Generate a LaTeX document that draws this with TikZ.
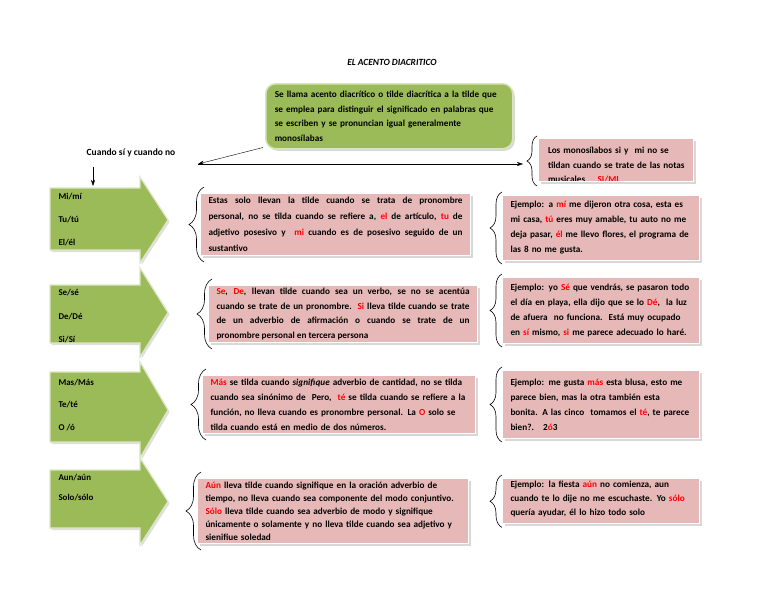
\documentclass[tikz,border=0pt]{standalone}
\usepackage{fontspec}
\setmainfont{Carlito}
\usepackage{tikz}
\usetikzlibrary{shapes,shadows,arrows.meta,decorations.pathreplacing}
\definecolor{verde}{HTML}{9BBB59}
\definecolor{rosa}{HTML}{E6B9B8}
\definecolor{rojo}{HTML}{FF0000}

\begin{document}
\begin{tikzpicture}[x=1pt,y=-1pt,
                caja/.style={fill=rosa,draw=white,line width=1pt,drop shadow={shadow xshift=2pt,shadow yshift=-2pt,fill=black!30},anchor=north west,inner xsep=8pt,inner ysep=3pt,align=left,font=\fontsize{9.2}{15}\selectfont\bfseries},
                cajaverde/.style={fill=verde,draw=verde!40!white,line width=1.5pt,rounded corners=10pt,drop shadow={shadow xshift=2pt,shadow yshift=-2pt,fill=black!30},anchor=north west,inner xsep=9pt,inner ysep=4pt,align=left,font=\fontsize{9.2}{14.5}\selectfont\bfseries},
                flecha/.style={fill=verde,draw=verde!35!white,line width=1.2pt,drop shadow={shadow xshift=1.5pt,shadow yshift=-2pt,fill=black!25}},
                llave/.style={decorate,decoration={brace,amplitude=15pt},line width=0.6pt},
                etiqueta/.style={anchor=west,font=\fontsize{8.9}{10}\selectfont\bfseries},
                >={Stealth[length=6pt,width=4pt]}]
                \useasboundingbox (0,0) rectangle (768,594);
                \node[font=\fontsize{9.4}{10}\selectfont\bfseries\itshape] (titulo) at (392,62) {EL ACENTO DIACRITICO};
                \node[cajaverde,text width=229pt,minimum height=65pt] (gbox) at (265,83)
                    {Se llama acento diacrítico o tilde diacrítica a la tilde que\\ se emplea para distinguir el significado en palabras que\\ se escriben y se pronuncian igual generalmente\\ monosílabas};
                \node[font=\fontsize{9.5}{10}\selectfont\bfseries] (cuando) at (131,153) {Cuando sí y cuando no};
                \coordinate (sube) at (93,167);
                \coordinate (baja) at (93,186);
                \draw[->] (sube) -- (baja);
                \coordinate (izq) at (198,164);
                \coordinate (der) at (523,164);
                \draw[->] ([xshift=-2pt,yshift=2pt]gbox.south west) -- (izq);
                \draw[->] (izq) -- (der);
                \node[caja,text width=139pt,minimum height=43pt,path picture={
                    \node[anchor=north west,align=left,text width=145pt,inner sep=0pt,font=\fontsize{9.2}{14.5}\selectfont\bfseries] (notatexto)
                        at ([xshift=9pt,yshift=-4.5pt]path picture bounding box.north west)
                        {Los monosílabos si y\ \ mi no se\\ tildan cuando se trate de las notas\\ musicales\ \ \ \ \textcolor{rojo}{SI/MI}};}] (nota) at (538,138) {};
                \draw[llave,decoration={amplitude=10pt}] ([xshift=-1pt,yshift=-4pt]nota.south west) -- ([xshift=-1pt,yshift=2pt]nota.north west);
                \foreach \a/\b/\c/\d in {188/250/177/263, 285/343/268/357, 372/442/362/458, 470/528/458/545}
                    \draw[flecha] (50,\a) -- (140,\a) -- (140,\c) -- (168,{(\c+\d)/2}) -- (140,\d) -- (140,\b) -- (50,\b) -- cycle;
                \node[etiqueta] (mi) at (55,197) {Mi/mí};
                \node[etiqueta] (tu) at (55,220) {Tu/tú};
                \node[etiqueta] (el) at (55,243) {El/él};
                \node[etiqueta] (se) at (55,293) {Se/sé};
                \node[etiqueta] (de) at (55,317) {De/Dé};
                \node[etiqueta] (si) at (55,340) {Si/Sí};
                \node[etiqueta] (mas) at (55,383) {Mas/Más};
                \node[etiqueta] (te) at (55,405) {Te/té};
                \node[etiqueta] (o) at (55,428) {O /ó};
                \node[etiqueta] (aun) at (55,478) {Aun/aún};
                \node[etiqueta] (solo) at (55,498) {Solo/sólo};
                \node[caja,text width=254pt,minimum height=62pt,inner ysep=1pt,align=justify,font=\fontsize{9.2}{16}\selectfont\bfseries] (L1) at (200,193)
                    {Estas solo llevan la tilde cuando se trata de pronombre\linebreak personal, no se tilda cuando se refiere a, \textcolor{rojo}{el} de artículo, \textcolor{rojo}{tu} de\linebreak adjetivo posesivo y\ \ \textcolor{rojo}{mi} cuando es de posesivo seguido de un\linebreak sustantivo};
                \node[caja,text width=181pt,minimum height=65pt] (R1) at (502,195)
                    {Ejemplo: a \textcolor{rojo}{mí} me dijeron otra cosa, esta es\\ mi casa, \textcolor{rojo}{tú} eres muy amable, tu auto no me\\ deja pasar, \textcolor{rojo}{él} me llevo flores, el programa de\\ las 8 no me gusta.};
                \node[caja,text width=253pt,minimum height=57pt,inner ysep=1pt,align=justify,font=\fontsize{9.2}{14.5}\selectfont\bfseries] (L2) at (208,285)
                    {\textcolor{rojo}{Se}, \textcolor{rojo}{De}, llevan tilde cuando sea un verbo, se no se acentúa\linebreak cuando se trate de un pronombre. \textcolor{rojo}{Si} lleva tilde cuando se trate\linebreak de un adverbio de afirmación o cuando se trate de un\linebreak pronombre personal en tercera persona};
                \node[caja,text width=181pt,minimum height=66pt] (R2) at (502,277)
                    {Ejemplo: yo \textcolor{rojo}{Sé} que vendrás, se pasaron todo\\ el día en playa, ella dijo que se lo \textcolor{rojo}{Dé},\ \ la luz\\ de afuera\ \ no funciona.\ \ Está muy ocupado\\ en \textcolor{rojo}{sí} mismo, \textcolor{rojo}{si} me parece adecuado lo haré.};
                \node[caja,text width=257pt,minimum height=58pt,inner ysep=1pt,font=\fontsize{9.2}{15}\selectfont\bfseries] (L3) at (202,375)
                    {\textcolor{rojo}{Más} se tilda cuando \textit{signifique} adverbio de cantidad, no se tilda\\ cuando sea sinónimo de\ \ Pero,\ \ \textcolor{rojo}{té} se tilda cuando se refiere a la\\ función, no lleva cuando es pronombre personal. La \textcolor{rojo}{O} solo se\\ tilda cuando está en medio de dos números.};
                \node[caja,text width=181pt,minimum height=68pt] (R3) at (502,370)
                    {Ejemplo: me gusta \textcolor{rojo}{más} esta blusa, esto me\\ parece bien, mas la otra también esta\\ bonita. A las cinco\ \ tomamos el \textcolor{rojo}{té}, te parece\\ bien?.\ \ \ 2\textcolor{rojo}{ó}3};
                \node[caja,text width=255pt,minimum height=65pt,inner ysep=1pt,font=\fontsize{9.2}{13}\selectfont\bfseries] (L4) at (197,478)
                    {\textcolor{rojo}{Aún} lleva tilde cuando signifique en la oración adverbio de\\ tiempo, no lleva cuando sea componente del modo conjuntivo.\\ \textcolor{rojo}{Sólo} lleva tilde cuando sea adverbio de modo y signifique\\ únicamente o solamente y no lleva tilde cuando sea adjetivo y\\ sienifiue soledad};
                \node[caja,text width=181pt,text depth=33pt,font=\fontsize{9.2}{14}\selectfont\bfseries] (R4) at (502,478)
                    {Ejemplo: la fiesta \textcolor{rojo}{aún} no comienza, aun\\ cuando te lo dije no me escuchaste. Yo \textcolor{rojo}{sólo}\\ quería ayudar, él lo hizo todo solo};
                \foreach \c in {L1,L2,L3,L4}
                    \draw[llave] ([xshift=4pt,yshift=-6pt]\c.south west) -- ([xshift=4pt,yshift=6pt]\c.north west);
                \foreach \c in {R1,R2,R3,R4}
                    \draw[llave,decoration={amplitude=12pt}] ([xshift=0pt,yshift=-3pt]\c.south west) -- ([xshift=0pt,yshift=3pt]\c.north west);
            \end{tikzpicture}
\end{document}
